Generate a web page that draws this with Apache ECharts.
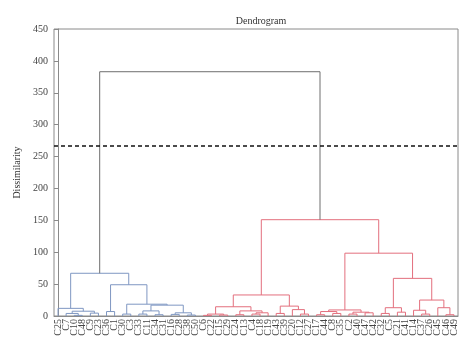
<!DOCTYPE html>
<html>
<head>
<meta charset="utf-8">
<script src="https://cdn.jsdelivr.net/npm/echarts@6/dist/echarts.min.js"></script>
<style>
  html, body { margin: 0; padding: 0; background: #fff; }
  #chart { width: 474px; height: 353px; }
</style>
</head>
<body>
<div id="chart"></div>
<script>
// leaves in the order they appear along the x axis
var leafLabels = ['C25', 'C7', 'C10', 'C48', 'C9', 'C23', 'C36', 'C1', 'C30', 'C3', 'C33', 'C11', 'C34', 'C31', 'C16', 'C28', 'C38', 'C50',
  'C6', 'C22', 'C15', 'C29', 'C24', 'C13', 'C4', 'C18', 'C19', 'C43', 'C39', 'C20', 'C12', 'C27', 'C17', 'C44', 'C8', 'C35', 'C2', 'C40',
  'C47', 'C42', 'C32', 'C5', 'C21', 'C41', 'C14', 'C37', 'C26', 'C45', 'C46', 'C49'];

// merges: index < 50 is a leaf, index >= 50 is merge (index - 50)
var mergeA = [2, 1, 4, 51, 0, 6, 8, 10, 12, 57, 14, 16, 60, 59, 56, 55, 54,
  18, 20, 67, 22, 24, 71, 70, 69, 27, 30, 29, 75, 74, 32, 34, 80, 36, 38, 83, 82, 40, 42, 87, 45, 44, 48, 47, 91, 89, 86, 79, 66];
var mergeB = [3, 50, 5, 52, 53, 7, 9, 11, 13, 58, 15, 17, 61, 62, 63, 64, 65,
  19, 21, 68, 23, 25, 26, 72, 73, 28, 31, 76, 77, 78, 33, 35, 81, 37, 39, 84, 85, 41, 43, 88, 46, 90, 49, 92, 93, 94, 95, 96, 97];
var mergeHeight = [1, 4, 4.5, 7.5, 12, 7, 3, 3, 2, 8, 2.5, 1.5, 5, 17, 18.5, 49, 67,
  1, 1.5, 3, 2, 3, 5, 8, 14.5, 4, 3, 10, 15.5, 33, 2, 4, 7, 3, 5, 6, 9.5, 4, 6, 13, 3, 9, 2, 13, 25, 59, 98.5, 151, 383];

var cutHeight = 267;
var yTicks = [0, 450, 50];

var n = leafLabels.length;
var nodeX = [], nodeH = [], nodeFirst = [];
for (var i = 0; i < n; i++) { nodeX[i] = i; nodeH[i] = 0; nodeFirst[i] = i; }
var links = [];
mergeA.forEach(function (a, k) {
  var b = mergeB[k], h = mergeHeight[k];
  nodeX[n + k] = (nodeX[a] + nodeX[b]) / 2;
  nodeH[n + k] = h;
  nodeFirst[n + k] = Math.min(nodeFirst[a], nodeFirst[b]);
  // colour by cluster: root grey, left cluster blue, right red
  var grp = h > cutHeight ? 0 : (nodeFirst[n + k] < 18 ? 1 : 2);
  links.push([nodeX[a], nodeX[b], nodeH[a], nodeH[b], h, grp]);
});

var linkColors = ['#6e6e6e', '#7f97c2', '#e36f7d'];
var serif = 'Liberation Serif';

var myChart = echarts.init(document.getElementById('chart'));
var option = {
  backgroundColor: '#fff',
  animation: false,
  title: {
    text: 'Dendrogram',
    left: 256,
    textAlign: 'center',
    top: 11,
    textStyle: { fontFamily: serif, fontSize: 10, fontWeight: 'normal', color: '#333' }
  },
  grid: {
    left: 54, right: 16, top: 29, bottom: 37,
    show: true, borderColor: '#8a8a8a', borderWidth: 1
  },
  xAxis: [{
    type: 'category',
    data: leafLabels,
    boundaryGap: true,
    axisLine: { lineStyle: { color: '#8a8a8a' } },
    axisTick: { show: false },
    axisLabel: { interval: 0, rotate: 90, margin: 3, fontFamily: serif, fontSize: 10, color: '#444' }
  }, {
    type: 'value',
    min: -0.5,
    max: n - 0.5,
    show: false
  }],
  yAxis: {
    type: 'value',
    min: yTicks[0],
    max: yTicks[1],
    interval: yTicks[2],
    name: 'Dissimilarity',
    nameLocation: 'middle',
    nameGap: 26,
    nameTextStyle: { fontFamily: serif, fontSize: 10, color: '#333' },
    axisLine: { show: true, lineStyle: { color: '#8a8a8a' } },
    axisTick: { show: true, length: 4, lineStyle: { color: '#8a8a8a' } },
    splitLine: { show: false },
    axisLabel: { fontFamily: serif, fontSize: 10, color: '#444', margin: 6 }
  },
  series: [{
    type: 'custom',
    xAxisIndex: 1,
    encode: { x: [0, 1], y: [2, 3, 4] },
    data: links,
    renderItem: function (params, api) {
      var p1 = api.coord([api.value(0), api.value(2)]);
      var p2 = api.coord([api.value(0), api.value(4)]);
      var p3 = api.coord([api.value(1), api.value(4)]);
      var p4 = api.coord([api.value(1), api.value(3)]);
      return {
        type: 'polyline',
        shape: { points: [p1, p2, p3, p4] },
        style: { fill: null, stroke: linkColors[api.value(5)], lineWidth: 1 }
      };
    },
    markLine: {
      silent: true,
      symbol: ['none', 'none'],
      label: { show: false },
      lineStyle: { color: '#111', type: [4, 3], width: 1.5 },
      data: [{ yAxis: cutHeight }]
    }
  }]
};
myChart.setOption(option);
</script>
</body>
</html>
